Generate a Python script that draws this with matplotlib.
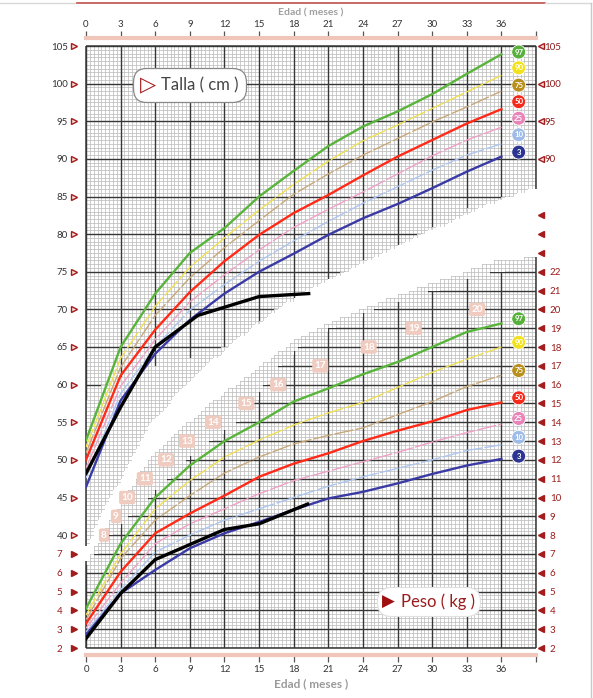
import numpy as np
import matplotlib
matplotlib.use('Agg')
import matplotlib.pyplot as plt
from matplotlib.patches import Polygon
from matplotlib.lines import Line2D
from matplotlib.transforms import blended_transform_factory
from matplotlib.offsetbox import TextArea, HPacker, AnnotationBbox

plt.rcParams['font.family'] = ['Lato', 'DejaVu Sans']

# ---- datos ----
meses = [0, 3, 6, 9, 12, 15, 18, 21, 24, 27, 30, 33, 36]
percentiles = ['97', '90', '75', '50', '25', '10', '3']

# talla (cm)
talla_p97 = [52.6, 65.0, 72.1, 77.5, 80.8, 85.0, 88.4, 91.7, 94.3, 96.3, 98.6, 101.3, 103.9]
talla_p90 = [51.7, 63.5, 70.4, 75.6, 79.5, 83.2, 86.6, 89.7, 92.4, 94.5, 96.7, 98.9, 101.1]
talla_p75 = [50.9, 62.3, 69.2, 74.2, 78.2, 81.8, 85.3, 88.0, 90.5, 92.7, 94.9, 96.9, 99.0]
talla_p50 = [50.0, 61.2, 67.3, 72.3, 76.4, 79.9, 82.8, 85.2, 87.8, 90.3, 92.5, 94.7, 96.6]
talla_p25 = [48.9, 59.8, 66.0, 71.0, 74.6, 77.9, 80.9, 83.3, 85.6, 88.0, 90.4, 92.5, 94.2]
talla_p10 = [47.6, 58.8, 65.0, 69.9, 73.3, 76.4, 79.1, 81.7, 84.1, 86.3, 88.5, 90.5, 92.0]
talla_p3 = [46.4, 57.9, 64.1, 68.6, 72.1, 75.0, 77.4, 79.9, 82.1, 84.0, 86.1, 88.3, 90.3]

# peso (kg)
peso_p97 = [4.1, 7.55, 10.0, 11.7, 13.0, 14.0, 15.1, 15.8, 16.55, 17.2, 18.0, 18.8, 19.25]
peso_p90 = [3.75, 7.0, 9.4, 10.9, 12.15, 13.05, 13.85, 14.5, 15.05, 15.85, 16.65, 17.35, 18.0]
peso_p75 = [3.5, 6.75, 8.8, 10.1, 11.3, 12.15, 12.85, 13.3, 13.7, 14.4, 15.1, 15.9, 16.5]
peso_p50 = [3.3, 6.05, 8.1, 9.15, 10.1, 11.1, 11.8, 12.35, 13.0, 13.55, 14.05, 14.65, 15.05]
peso_p25 = [3.05, 5.45, 7.55, 8.6, 9.4, 10.2, 10.9, 11.4, 11.9, 12.4, 12.95, 13.45, 13.9]
peso_p10 = [2.85, 5.1, 7.1, 8.0, 8.8, 9.4, 10.0, 10.6, 11.1, 11.55, 12.0, 12.5, 12.8]
peso_p3 = [2.7, 4.9, 6.15, 7.3, 8.1, 8.7, 9.35, 9.95, 10.3, 10.75, 11.25, 11.7, 12.05]

# niño
nino_talla_mes = [0, 3, 6, 9.7, 15, 19.3]
nino_talla = [48.2, 57.0, 65.0, 69.2, 71.7, 72.1]
nino_peso_mes = [0, 3, 6, 12, 15, 19.2]
nino_peso = [2.5, 4.9, 6.7, 8.3, 8.6, 9.65]

# etiquetas de peso a lo largo de la franja
marca_kg = [8, 9, 10, 11, 12, 13, 14, 15, 16, 17, 18, 19, 20]
marca_mes = [1.56, 2.6, 3.56, 5.1, 6.94, 8.76, 11.0, 13.9, 16.65, 20.3, 24.5, 28.4, 33.9]

# marcas de percentil (circulos de la derecha)
badge_mes = 37.5
badge_talla = [104.2, 102.1, 99.8, 97.6, 95.4, 93.2, 90.9]
badge_peso = [19.5, 18.25, 16.75, 15.3, 14.2, 13.2, 12.2]

# ejes
talla_izq = list(range(40, 106, 5))
talla_der = [90, 95, 100, 105]
peso_izq = list(range(2, 8))
peso_der = list(range(2, 26))
edad_ticks = list(range(0, 40, 3))

# bordes de la franja blanca (mes, cm)
franja_sup_mes = [0, 1.21, 2.95, 5.55, 9.89, 14.22, 18.56, 24.37, 30.1, 35.9, 39.0]
franja_sup_cm = [38.0, 42.2, 47.0, 54.6, 61.65, 67.2, 71.9, 76.3, 80.5, 84.5, 86.1]
franja_inf_mes = [0, 1.21, 2.08, 3.56, 5.81, 10.15, 15.09, 18.56, 24.37, 30.1, 35.9, 39.0]
franja_inf_cm = [36.25, 39.3, 41.97, 45.3, 50.6, 56.6, 62.3, 66.3, 70.3, 73.5, 76.5, 76.9]
# limites de las lineas gruesas
grueso_talla_mes = [0, 1.47, 5.55, 9.89, 12.06, 16.4, 21.0, 24.0, 27.0, 30.0, 33.0, 36.0, 39.0]
grueso_talla_cm = [57.9, 59.9, 62.2, 63.9, 65.0, 69.9, 73.9, 76.5, 78.5, 80.8, 83.2, 84.8, 86.1]
grueso_peso_mes = [0, 2.08, 3.82, 5.55, 7.03, 9.02, 11.0, 13.36, 14.66, 15.52, 17.0, 18.56, 21.42, 25.24, 30.1, 35.9, 39.0]
grueso_peso_cm = [35.8, 40.0, 42.5, 45.0, 47.55, 50.1, 52.6, 55.1, 57.7, 60.05, 62.6, 65.1, 67.6, 70.0, 72.55, 75.1, 76.3]

colores = {'97': '#58b43a', '90': '#f0e050', '75': '#c8a878', '50': '#ff2a18',
           '25': '#f0a0c6', '10': '#adc6f0', '3': '#3a3aa6'}
badge_col = ['#56b03a', '#f2e21c', '#b88e1c', '#f42a1c', '#e884b8', '#9fbbe8', '#2d3592']
gruesas = ['97', '50', '3']

MINOR = '#bababa'
MAJOR = '#363636'
ROJO = '#a41c1c'
ROSA = '#f0c6ba'

fig = plt.figure(figsize=(5.93, 6.98), dpi=100)
ax = fig.add_axes([86 / 593, 50 / 698, 450 / 593, 602 / 698])
ax.set_xlim(0, 39)
ax.set_ylim(25, 105)
ax_w = ax.twinx()
ax_w.set_ylim(2, 34)
for a in (ax, ax_w):
    for s in a.spines.values():
        s.set_visible(False)

# ---- rejilla ----
cols = np.arange(0, 39 + 1e-6, 1 / 3)
mid = cols[:-1] + 1 / 6


def escalon(mo, cm):
    v = np.round(np.interp(mid, mo, cm) * 2) / 2
    return np.r_[v, v[-1]]


def contorno(v):
    pts = []
    for i in range(len(mid)):
        pts += [(cols[i], v[i]), (cols[i + 1], v[i])]
    return pts


ax.vlines(cols, 25, 105, color=MINOR, lw=0.5, zorder=1)
ax.hlines(np.arange(25, 105.01, 0.5), 0, 39, color=MINOR, lw=0.5, zorder=1)

pt = contorno(escalon(grueso_talla_mes, grueso_talla_cm))
zona_talla = Polygon([(-1, 110), (40, 110), (40, pt[-1][1])] + pt[::-1] + [(-1, pt[0][1])],
                     transform=ax.transData)
pp = contorno(escalon(grueso_peso_mes, grueso_peso_cm))
zona_peso = Polygon([(-1, 20), (40, 20), (40, pp[-1][1])] + pp[::-1] + [(-1, pp[0][1])],
                    transform=ax.transData)

for lc in (ax.vlines(edad_ticks, 25, 105, color=MAJOR, lw=1.0, zorder=2),
           ax.hlines(np.arange(25, 105.01, 5), 0, 39, color=MAJOR, lw=1.0, zorder=2)):
    lc.set_clip_path(zona_talla)
for lc in (ax.vlines(edad_ticks, 25, 105, color=MAJOR, lw=1.0, zorder=2),
           ax_w.hlines(np.arange(2, 35), 0, 39, color=MAJOR, lw=1.0, zorder=2)):
    lc.set_clip_path(zona_peso)

ax.vlines([0, 39], 25, 105, color=MAJOR, lw=1.1, zorder=2.5, clip_on=False)
ax.hlines([25, 105], 0, 39, color=MAJOR, lw=1.1, zorder=2.5, clip_on=False)

xs = cols.copy()
xs[0], xs[-1] = -0.2, 39.2
ax.fill_between(xs, escalon(franja_inf_mes, franja_inf_cm), escalon(franja_sup_mes, franja_sup_cm),
                step='post', color='white', lw=0, zorder=3, clip_on=False)

# ---- curvas ----
tallas = [talla_p97, talla_p90, talla_p75, talla_p50, talla_p25, talla_p10, talla_p3]
pesos = [peso_p97, peso_p90, peso_p75, peso_p50, peso_p25, peso_p10, peso_p3]
for p, t, w in zip(percentiles, tallas, pesos):
    if p in gruesas:
        estilo = dict(lw=1.7, ls='-')
    else:
        estilo = dict(lw=1.0, ls=(0, (14, 1.5)))
    ax.plot(meses, t, color=colores[p], zorder=4, **estilo)
    ax_w.plot(meses, w, color=colores[p], zorder=4, **estilo)

ax.plot(nino_talla_mes, nino_talla, color='black', lw=2.4, zorder=5)
ax_w.plot(nino_peso_mes, nino_peso, color='black', lw=2.4, zorder=5)

# circulos de percentil
for a, ys in ((ax, badge_talla), (ax_w, badge_peso)):
    a.scatter([badge_mes] * len(ys), ys, s=100, c=badge_col, edgecolors='white',
              linewidths=0.6, zorder=6, clip_on=False)
    for y, p in zip(ys, percentiles):
        a.text(badge_mes, y, p, ha='center', va='center', color='white',
               fontsize=5.6, fontweight='bold', zorder=7)

# etiquetas de peso rosadas
for m, k in zip(marca_mes, marca_kg):
    ax_w.text(m, k, str(k), ha='center', va='center', fontsize=7.2, color='white',
              fontweight='bold', zorder=5,
              bbox=dict(boxstyle='round,pad=0.22,rounding_size=0.2', fc='#f0cbbf', ec='none'))

# ---- marcas triangulares de los ejes ----
tl = blended_transform_factory(ax.transAxes, ax.transData)
tw = blended_transform_factory(ax_w.transAxes, ax_w.transData)
ax.plot([-0.027] * len(talla_izq), talla_izq, ls='none', marker='>', ms=4.5,
        mfc='#f7dede', mec=ROJO, mew=1, transform=tl, clip_on=False)
ax_w.plot([-0.027] * len(peso_izq), peso_izq, ls='none', marker='>', ms=4,
          color=ROJO, transform=tw, clip_on=False)
ax.plot([1.010] * len(talla_der), talla_der, ls='none', marker='<', ms=4.5,
        mfc='#f7dede', mec=ROJO, mew=1, transform=tl, clip_on=False)
ax_w.plot([1.012] * len(peso_der), peso_der, ls='none', marker='<', ms=4,
          color=ROJO, transform=tw, clip_on=False)

# ---- etiquetas de los ejes ----
ax.set_yticks(talla_izq)
ax.tick_params(axis='y', length=0, pad=13, labelsize=7, labelcolor='#333333')

edad_labels = [str(m) for m in edad_ticks[:-1]] + ['']
ax.set_xticks(edad_ticks, edad_labels)
ax.spines['bottom'].set_visible(True)
ax.spines['bottom'].set_position(('axes', -0.0116))
ax.spines['bottom'].set_color(ROSA)
ax.spines['bottom'].set_linewidth(3)
ax.tick_params(axis='x', direction='out', length=5, width=0.9, color='#555555', pad=2,
               labelsize=7, labelcolor='#333333')
ax.set_xlabel('Edad ( meses )', fontsize=8.5, fontweight='bold', color='#9a9a9a', labelpad=3)

top = ax.secondary_xaxis(1.0133)
top.set_xticks(edad_ticks, edad_labels)
top.tick_params(direction='out', length=5, width=0.9, color='#555555', pad=1.5,
                labelsize=7, labelcolor='#333333')
for s in top.spines.values():
    s.set_color(ROSA)
    s.set_linewidth(3)
top.set_xlabel('Edad ( meses )', fontsize=7.5, fontweight='bold', color='#a0a0a0', labelpad=3)

ax_w.set_yticks(peso_der, [str(k) if k <= 22 else '' for k in peso_der])
ax_w.tick_params(axis='y', length=0, pad=10, labelsize=7, labelcolor='#9b1c1c')

rh = ax.secondary_yaxis('right')
rh.set_yticks(talla_der)
rh.tick_params(length=0, pad=6, labelsize=7, labelcolor='#8b1a1a')
lw_ax = ax_w.secondary_yaxis('left')
lw_ax.set_yticks(peso_izq)
lw_ax.tick_params(length=0, pad=17, labelsize=7, labelcolor='#9b1c1c')
for sa in (rh, lw_ax):
    for s in sa.spines.values():
        s.set_visible(False)

# ---- recuadros de titulo ----
caja_t = HPacker(children=[TextArea('▷', textprops=dict(color=ROJO, fontsize=15, family='DejaVu Sans')),
                           TextArea('Talla ( cm )', textprops=dict(color='#444444', fontsize=12))],
                 align='center', pad=0, sep=4)
ax.add_artist(AnnotationBbox(caja_t, (0.229, 0.935), xycoords='axes fraction', fontsize=10,
                             bboxprops=dict(boxstyle='round,pad=0.5,rounding_size=1.0',
                                            fc='white', ec='#888888', lw=0.9), zorder=6))
caja_p = HPacker(children=[TextArea('▶', textprops=dict(color='#a01010', fontsize=12, family='DejaVu Sans')),
                           TextArea('Peso ( kg )', textprops=dict(color='#9b1c1c', fontsize=12))],
                 align='center', pad=0, sep=4)
ax_w.add_artist(AnnotationBbox(caja_p, (0.761, 0.077), xycoords='axes fraction', fontsize=10,
                               bboxprops=dict(boxstyle='round,pad=0.4,rounding_size=1.0',
                                              fc='white', ec='#e0e0e0', lw=0.8), zorder=6))

# ---- bordes de la pagina ----
yb = 1 - 2.5 / 698
fig.add_artist(Line2D([0, 75 / 593], [yb, yb], color='#d8d8d8', lw=1))
fig.add_artist(Line2D([77 / 593, 545 / 593], [yb, yb], color='#c0504d', lw=1.2))
fig.add_artist(Line2D([545 / 593, 590.5 / 593], [yb, yb], color='#d8d8d8', lw=1))
fig.add_artist(Line2D([590.5 / 593, 590.5 / 593], [0, yb], color='#c8c8c8', lw=1))

fig.savefig('out.png', dpi=100)
